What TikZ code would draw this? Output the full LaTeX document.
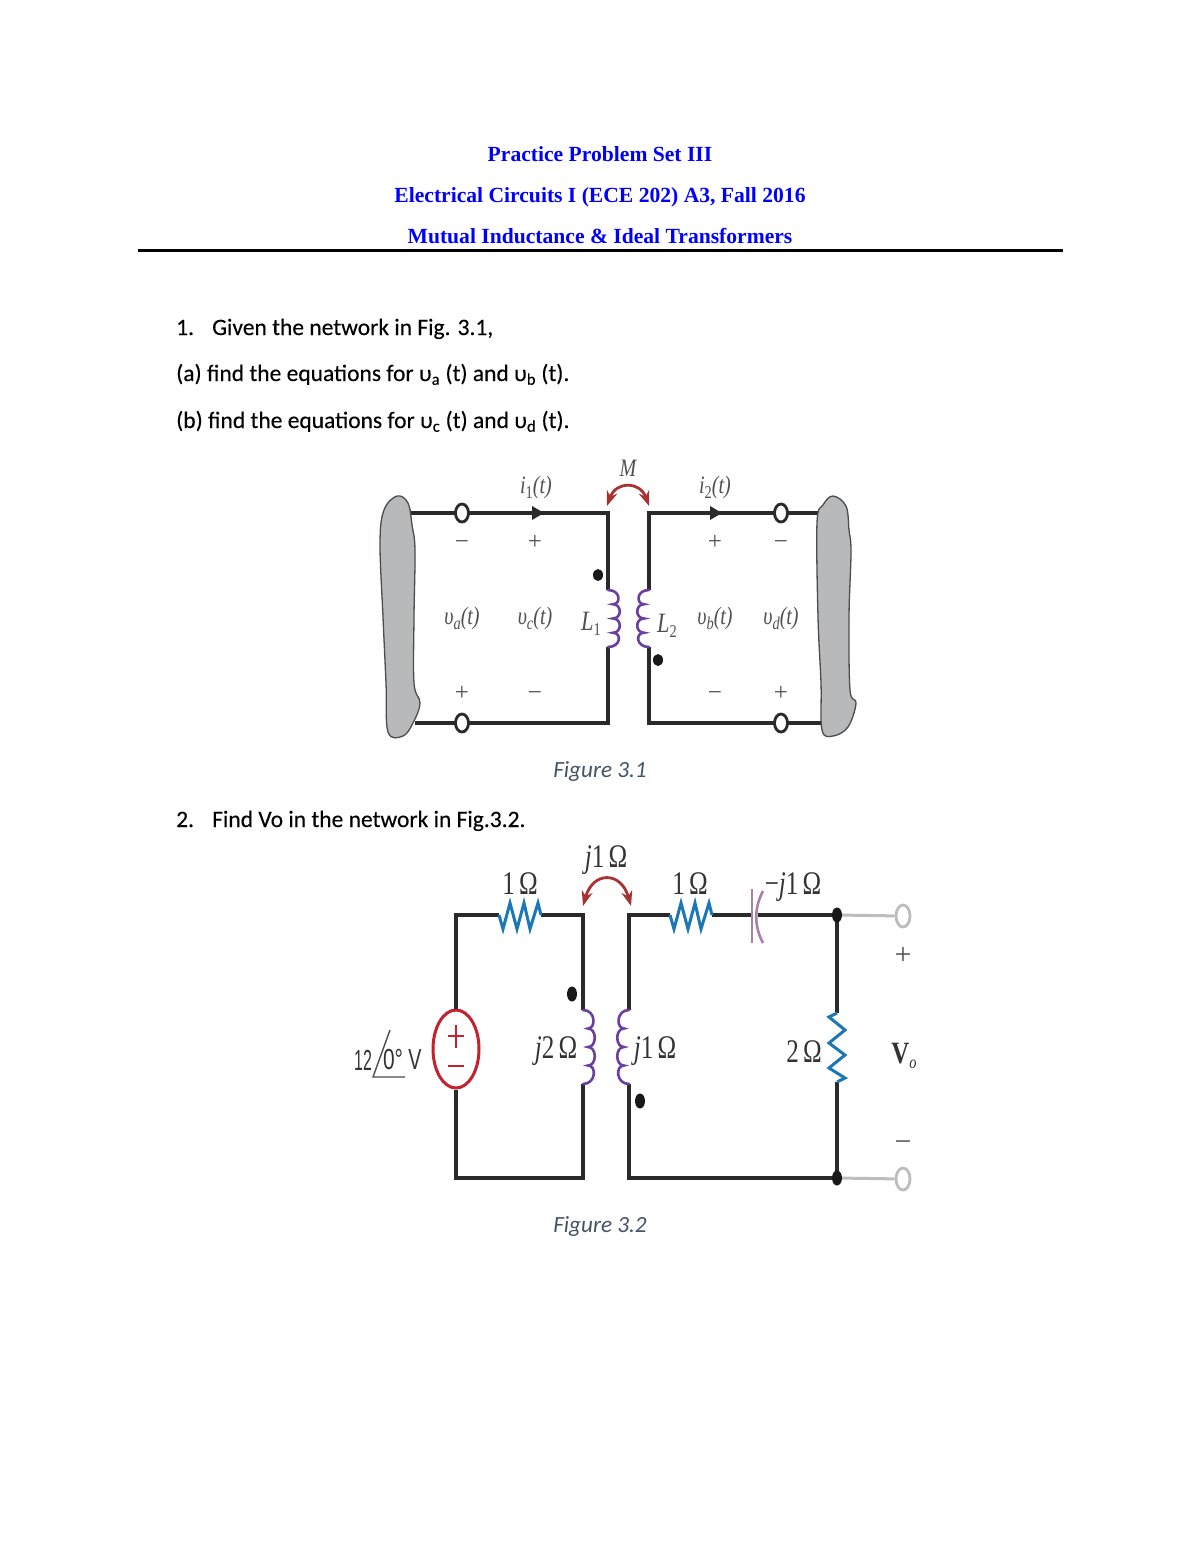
\documentclass[tikz,border=0pt]{standalone}
\usepackage{fontspec}
\setmainfont[FakeBold=0.2]{Carlito}
\newfontfamily\capf{Carlito}
\newfontfamily\serifx{Liberation Serif}
\newfontfamily\sansx{Liberation Sans}
\usetikzlibrary{arrows.meta,shapes.geometric}
\definecolor{wire}{HTML}{2A2A2A}
\definecolor{lbl}{HTML}{505050}
\definecolor{blobgray}{HTML}{B8B9BB}
\definecolor{coilc}{HTML}{6A3FA0}
\definecolor{resc}{HTML}{1B77B5}
\definecolor{redarc}{HTML}{A83232}
\definecolor{srcred}{HTML}{C5202E}
\definecolor{capc}{HTML}{A880A8}
\definecolor{capt}{HTML}{44546A}
\definecolor{lead}{HTML}{BDBDBD}
\newcommand\cond[1]{\scalebox{.8}[1]{#1}}
\newcommand\condo[1]{\scalebox{.76}[1]{#1}}
\newcommand\sbs[1]{\raisebox{-5pt}{\fontsize{18}{20}\selectfont #1}}
\newcommand\coilat[4]{\begin{scope}[shift={(#1)},yscale=#3/56]
 \draw[coilline] (0,0) .. controls ({13*#2},0) and ({13*#2},14) .. ({5*#2},14)
  .. controls ({14*#2},14) and ({14*#2},28) .. ({5*#2},28)
  .. controls ({14*#2},28) and ({14*#2},42) .. ({5*#2},42)
  .. controls ({14*#2},42) and ({13*#2},56) .. (0,56);
 \end{scope}}
\newcommand\reshat[1]{\begin{scope}[shift={(#1)}]
 \draw[resline] (0,0) -- (4,14) -- (11,-12) -- (18,14) -- (25,-12) -- (31,14) -- (39,-12) -- (42,0);
 \end{scope}}
\tikzset{
 x=1pt,y=-1pt,
 titletext/.style={font=\serifx\bfseries\fontsize{21.6}{24}\selectfont,text=blue,anchor=base,inner sep=0pt},
 bodytext/.style={font=\fontsize{23.5}{26}\selectfont,text=black,anchor=base west,inner sep=0pt},
 captext/.style={font=\capf\itshape\fontsize{23.2}{26}\selectfont,text=capt,anchor=base,inner sep=0pt},
 wireline/.style={draw=wire,line width=3.1pt,line join=miter},
 coilline/.style={draw=coilc,line width=2.6pt,line cap=round},
 resline/.style={draw=resc,line width=3pt,line join=miter},
 mutual/.style={draw=redarc,line width=2.8pt,{Stealth[length=15pt,width=11pt]}-{Stealth[length=15pt,width=11pt]}},
 term/.style={ellipse,draw=wire,line width=2.8pt,fill=white,minimum width=13pt,minimum height=18pt,inner sep=0pt},
 oterm/.style={ellipse,draw=lead,line width=2.8pt,fill=white,minimum width=14pt,minimum height=22pt,inner sep=0pt},
 dotmark/.style={ellipse,fill=black!90,minimum width=10pt,minimum height=12pt,inner sep=0pt},
 jointmark/.style={ellipse,fill=black!90,minimum width=10pt,minimum height=15pt,inner sep=0pt},
 blob/.style={draw=black!70,line width=1.3pt,fill=blobgray},
 lab/.style={font=\serifx\itshape\fontsize{25}{28}\selectfont,text=lbl,inner sep=0pt},
 omega/.style={font=\serifx\fontsize{33}{36}\selectfont,text=black!80,inner sep=0pt},
 sign/.style={font=\serifx\fontsize{25}{28}\selectfont,text=lbl,inner sep=0pt},
 bigsign/.style={font=\serifx\fontsize{30}{32}\selectfont,text=lbl,inner sep=0pt},
 sansv/.style={font=\sansx\fontsize{29}{32}\selectfont,text=black!80,inner sep=0pt},
}
\begin{document}
\begin{tikzpicture}
\useasboundingbox (0,0) rectangle (1200,1553);
\fill[white] (0,0) rectangle (1200,1553);
% header
\node[titletext] (t1) at (600,161) {Practice Problem Set III};
\node[titletext] (t2) at (600,202) {Electrical Circuits I (ECE 202) A3, Fall 2016};
\node[titletext] (t3) at (600,243) {Mutual Inductance \& Ideal Transformers};
\coordinate (ruleL) at (138,250); \coordinate (ruleR) at (1063,250);
\draw[line width=3pt,black] (ruleL) -- (ruleR);
% body
\node[bodytext] (n1) at (176,335) {1.};
\node[bodytext] (q1) at (212,335) {Given the network in Fig. 3.1,};
\node[bodytext] (qa) at (176,381) {(a) find the equations for υ\textsubscript{a} (t) and υ\textsubscript{b} (t).};
\node[bodytext] (qb) at (176,428) {(b) find the equations for υ\textsubscript{c} (t) and υ\textsubscript{d} (t).};
\node[captext] (c1) at (600,777) {Figure 3.1};
\node[bodytext] (n2) at (176,827) {2.};
\node[bodytext] (q2) at (212,827) {Find Vo in the network in Fig.3.2.};
\node[captext] (c2) at (600,1232) {Figure 3.2};
% ---------- Figure 3.1
\coordinate (aTL) at (410,513); \coordinate (aBL) at (415,723);
\coordinate (aTR) at (820,513); \coordinate (aBR) at (825,723);
\coordinate (l1t) at (608,590); \coordinate (l1b) at (608,647);
\coordinate (l2t) at (649,590); \coordinate (l2b) at (649,647);
\coordinate (a1) at (608,513); \coordinate (a2) at (608,723);
\coordinate (a3) at (649,513); \coordinate (a4) at (649,723);
\draw[wireline] (aTL) -- (a1) -- (l1t);
\draw[wireline] (l1b) -- (a2) -- (aBL);
\draw[wireline] (aTR) -- (a3) -- (l2t);
\draw[wireline] (l2b) -- (a4) -- (aBR);
\coilat{l1t}{1}{57}{}
\coilat{l2t}{-1}{57}{}
\draw[blob] plot[smooth cycle,tension=.6] coordinates {(397,496) (408,503) (412,525) (415,550) (414,617) (414,683) (420,703) (413,723) (403,736) (388,732) (386,683) (383,617) (380,543) (384,510)};
\draw[blob] plot[smooth cycle,tension=.6] coordinates {(833,496) (846,506) (849,530) (851,552) (849,617) (850,690) (856,703) (848,727) (833,736) (822,730) (821,683) (818,617) (817,523) (823,505)};
\node[term] (ta) at (462,513) {};
\node[term] (tb) at (462,723) {};
\node[term] (tc) at (781,513) {};
\node[term] (td) at (781,723) {};
\fill[wire] (544,513) -- (532,506) -- (532,520) -- cycle;
\fill[wire] (722,513) -- (710,506) -- (710,520) -- cycle;
\node[dotmark] (d1) at (598,575) {};
\node[dotmark] (d2) at (658,660) {};
\coordinate (m1) at (607,506); \coordinate (m2) at (649,506);
\draw[mutual] (m1) .. controls (616,481) and (640,481) .. (m2);
\node[lab] (mM) at (628,468) {\cond{M}};
\node[lab] (i1) at (536,487) {\cond{i\sbs{\upshape 1}(t)}};
\node[lab] (i2) at (715,487) {\cond{i\sbs{\upshape 2}(t)}};
\node[lab] (va) at (462,618) {\cond{υ\sbs{a}(t)}};
\node[lab] (vc) at (535,618) {\cond{υ\sbs{c}(t)}};
\node[lab] (vb) at (715,618) {\cond{υ\sbs{b}(t)}};
\node[lab] (vd) at (781,618) {\cond{υ\sbs{d}(t)}};
\node[lab,font=\serifx\itshape\fontsize{28}{30}\selectfont] (L1) at (591,624) {\cond{L\sbs{\upshape 1}}};
\node[lab,font=\serifx\itshape\fontsize{28}{30}\selectfont] (L2) at (667,626) {\cond{L\sbs{\upshape 2}}};
\node[sign] (s1) at (462,545) {−};
\node[sign] (s2) at (535,542) {+};
\node[sign] (s3) at (462,693) {+};
\node[sign] (s4) at (535,696) {−};
\node[sign] (s5) at (715,542) {+};
\node[sign] (s6) at (781,545) {−};
\node[sign] (s7) at (715,696) {−};
\node[sign] (s8) at (781,693) {+};
% ---------- Figure 3.2
\coordinate (b1) at (456,915); \coordinate (b2) at (583,915);
\coordinate (b3) at (583,1178); \coordinate (b4) at (456,1178);
\coordinate (b5) at (629,915); \coordinate (b6) at (629,1178);
\coordinate (r1a) at (499,915); \coordinate (r1b) at (541,915);
\coordinate (r2a) at (670,915); \coordinate (r2b) at (712,915);
\coordinate (l3t) at (583,1010); \coordinate (l3b) at (583,1084);
\coordinate (l4t) at (629,1010); \coordinate (l4b) at (629,1084);
\coordinate (capL) at (752,915); \coordinate (capR) at (758,915);
\coordinate (r3a) at (837,1013); \coordinate (r3b) at (837,1082);
\node[ellipse,draw=srcred,line width=3pt,fill=white,minimum width=46pt,minimum height=78pt,inner sep=0pt] (src) at (456,1049) {};
\node[oterm] (o1) at (903,916) {};
\node[oterm] (o2) at (903,1179) {};
\draw[draw=lead,line width=3pt] (837,915) -- (o1);
\draw[draw=lead,line width=3pt] (837,1178) -- (o2);
\draw[wireline] (src.north) -- (b1) -- (r1a);
\draw[wireline] (r1b) -- (b2) -- (l3t);
\draw[wireline] (l3b) -- (b3) -- (b4) -- (src.south);
\draw[wireline] (l4t) -- (b5) -- (r2a);
\draw[wireline] (r2b) -- (capL);
\draw[wireline] (capR) -- (837,915) -- (r3a);
\draw[wireline] (r3b) -- (837,1178) -- (b6) -- (l4b);
\node[jointmark] (j1) at (837,915) {};
\node[jointmark] (j2) at (837,1178) {};
\reshat{r1a}
\reshat{r2a}
\draw[resline] (r3a) -- (829,1017) -- (845,1030) -- (829,1043) -- (845,1055) -- (829,1068) -- (845,1078) -- (r3b);
\coilat{l3t}{1}{74}{}
\coilat{l4t}{-1}{74}{}
\draw[draw=capc,line width=2.6pt] (752,889) -- (752,943);
\draw[draw=capc,line width=2.6pt] (763,891) .. controls (754,908) and (754,926) .. (763,943);
\node[dotmark,minimum height=15pt] (d3) at (572,994) {};
\node[dotmark,minimum height=15pt] (d4) at (640,1101) {};
\coordinate (m3) at (583,906); \coordinate (m4) at (631,906);
\draw[mutual] (m3) .. controls (593,871) and (621,871) .. (m4);
\draw[srcred,line width=2pt] (456,1025) -- (456,1048) (448,1036) -- (464,1036) (448,1066) -- (464,1066);
\node[omega] (o1l) at (520,884) {\condo{1\,Ω}};
\node[omega] (o2l) at (606,860) {\condo{\textit{j}1\,Ω}};
\node[omega] (o3l) at (690,884) {\condo{1\,Ω}};
\node[omega] (o4l) at (793,887) {\condo{−\textit{j}1\,Ω}};
\node[omega] (o5l) at (556,1051) {\condo{\textit{j}2\,Ω}};
\node[omega] (o6l) at (655,1051) {\condo{\textit{j}1\,Ω}};
\node[omega] (o7l) at (804,1052) {\condo{2\,Ω}};
\node[omega,font=\serifx\bfseries\fontsize{31}{34}\selectfont] (vo) at (904,1056) {\cond{V\sbs{\mdseries\itshape o}}};
\node[bigsign] (p1) at (903,956) {+};
\node[bigsign] (p2) at (903,1146) {−};
\node[sansv] (v12) at (363,1060) {\scalebox{.55}[1]{12}};
\node[sansv] (v0) at (393,1060) {\scalebox{.72}[1]{0°}};
\node[sansv] (vV) at (415,1060) {\scalebox{.68}[1]{V}};
\coordinate (angA) at (390,1030); \coordinate (angB) at (373,1077); \coordinate (angC) at (405,1077);
\draw[black!70,line width=1.4pt] (angA) -- (angB) -- (angC);
\end{tikzpicture}
\end{document}
